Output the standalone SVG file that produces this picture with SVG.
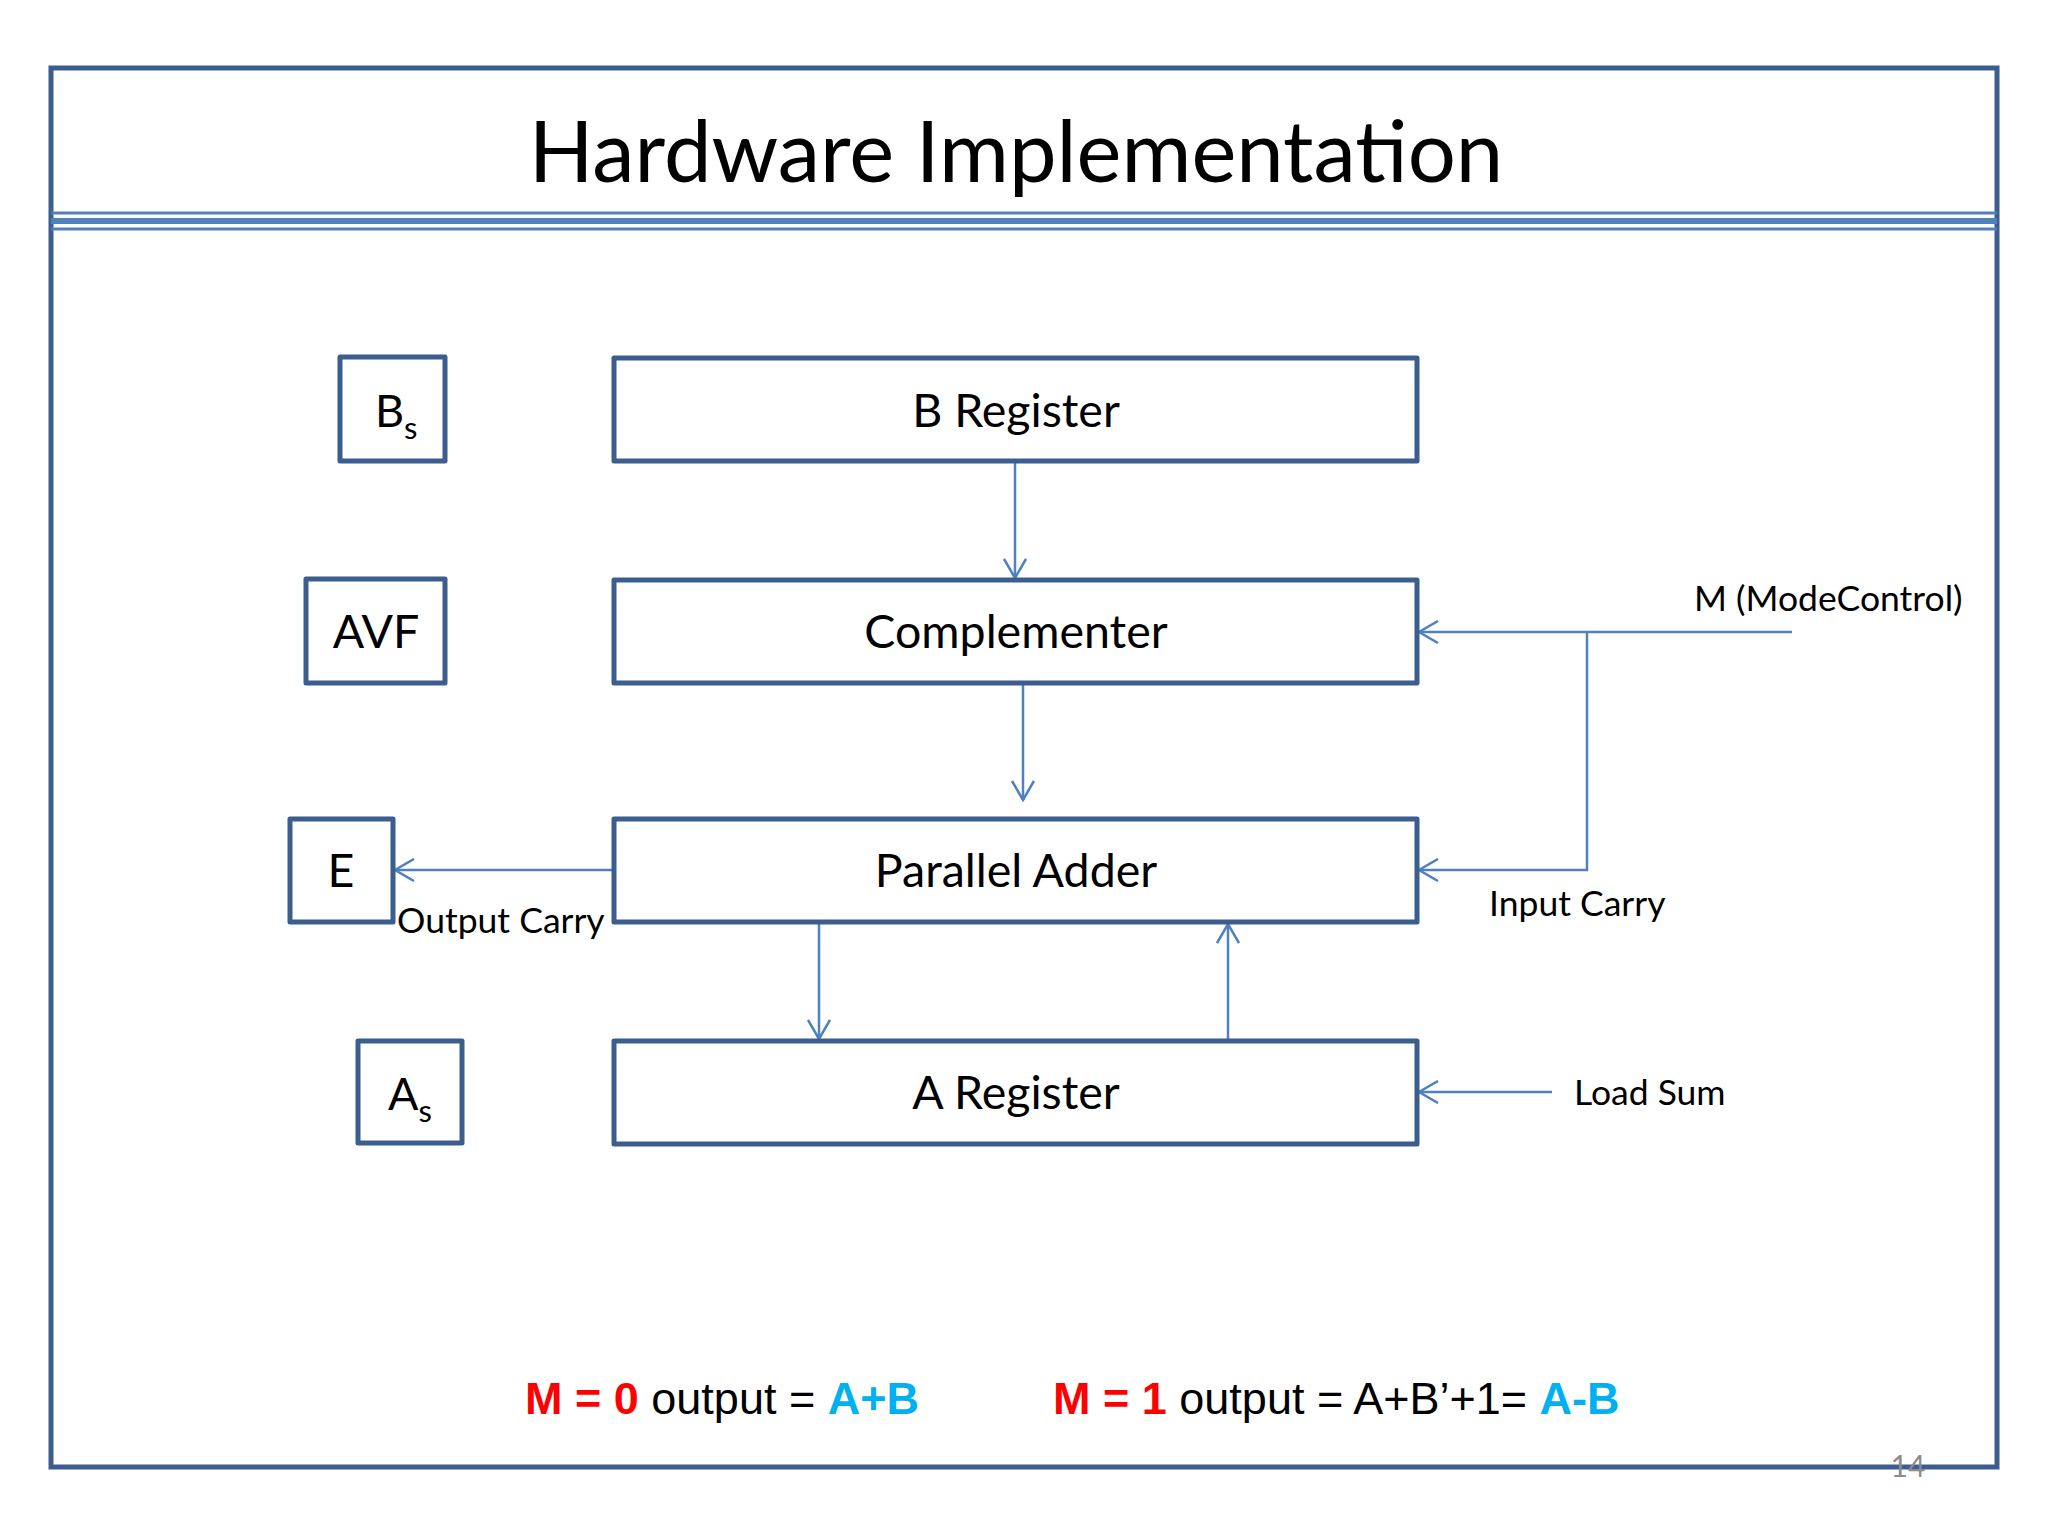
<svg xmlns="http://www.w3.org/2000/svg" width="2048" height="1536" viewBox="0 0 2048 1536">
  <defs>
    <marker id="arr" viewBox="0 0 22 24" refX="20" refY="12" markerWidth="22" markerHeight="24" markerUnits="userSpaceOnUse" orient="auto">
      <path d="M1,1 L20,12 L1,23" fill="none" stroke="#4F81BD" stroke-width="2.5"/>
    </marker>
    <style>
      .box { fill: #FFFFFF; stroke: #3B5E8E; stroke-width: 5; stroke-linejoin: round; }
      .lbl { font-family: Lato, "Open Sans", "Liberation Sans", sans-serif; fill: #000000; }
      .big { font-size: 46.5px; text-anchor: middle; }
      .small { font-size: 35.5px; }
      .sub { font-size: 31px; }
      .conn { fill: none; stroke: #4F81BD; stroke-width: 2.5; }
      .eq { font-family: "Liberation Sans", Arial, sans-serif; font-size: 45px; }
      .red { fill: #FF0000; font-weight: bold; }
      .blue { fill: #00B0F0; font-weight: bold; }
    </style>
  </defs>
  <rect x="0" y="0" width="2048" height="1536" fill="#FFFFFF"/>

  <g id="frame">
    <rect x="51" y="68" width="1946" height="1399" fill="none" stroke="#3B5E8E" stroke-width="5"/>
    <line x1="51" y1="213" x2="1997" y2="213" stroke="#4F81BD" stroke-width="3"/>
    <line x1="51" y1="221" x2="1997" y2="221" stroke="#4F81BD" stroke-width="6"/>
    <line x1="51" y1="229" x2="1997" y2="229" stroke="#4F81BD" stroke-width="3"/>
    <text x="1016" y="182" class="lbl" font-size="85" text-anchor="middle">Hardware Implementation</text>
  </g>

  <g id="connectors">
    <line class="conn" x1="1015" y1="461" x2="1015" y2="578" marker-end="url(#arr)"/>
    <line class="conn" x1="1023" y1="683" x2="1023" y2="800" marker-end="url(#arr)"/>
    <line class="conn" x1="614" y1="870" x2="395" y2="870" marker-end="url(#arr)"/>
    <line class="conn" x1="819" y1="922" x2="819" y2="1039" marker-end="url(#arr)"/>
    <line class="conn" x1="1228" y1="1041" x2="1228" y2="924" marker-end="url(#arr)"/>
    <line class="conn" x1="1792" y1="632" x2="1419" y2="632" marker-end="url(#arr)"/>
    <polyline class="conn" points="1587,632 1587,870 1419,870" marker-end="url(#arr)"/>
    <line class="conn" x1="1552" y1="1092" x2="1419" y2="1092" marker-end="url(#arr)"/>
  </g>

  <g id="node-bs">
    <rect class="box" x="340" y="357" width="105" height="104"/>
    <text class="lbl" x="375" y="427" font-size="45">B<tspan class="sub" dy="12">s</tspan></text>
  </g>
  <g id="node-avf">
    <rect class="box" x="306" y="579" width="139" height="104"/>
    <text class="lbl big" x="376" y="648">AVF</text>
  </g>
  <g id="node-e">
    <rect class="box" x="290" y="819" width="103" height="103"/>
    <text class="lbl big" x="341" y="887">E</text>
  </g>
  <g id="node-as">
    <rect class="box" x="358" y="1041" width="104" height="102"/>
    <text class="lbl" x="388" y="1110" font-size="45">A<tspan class="sub" dy="12">s</tspan></text>
  </g>

  <g id="node-breg">
    <rect class="box" x="614" y="358" width="803" height="103"/>
    <text class="lbl big" x="1016" y="427">B Register</text>
  </g>
  <g id="node-comp">
    <rect class="box" x="614" y="580" width="803" height="103"/>
    <text class="lbl big" x="1016" y="648">Complementer</text>
  </g>
  <g id="node-adder">
    <rect class="box" x="614" y="819" width="803" height="103"/>
    <text class="lbl big" x="1016" y="887">Parallel Adder</text>
  </g>
  <g id="node-areg">
    <rect class="box" x="614" y="1041" width="803" height="103"/>
    <text class="lbl big" x="1016" y="1109">A Register</text>
  </g>

  <g id="labels">
    <text class="lbl small" x="397" y="933">Output Carry</text>
    <text class="lbl small" x="1694" y="611">M (ModeControl)</text>
    <text class="lbl small" x="1489" y="916">Input Carry</text>
    <text class="lbl small" x="1574" y="1105">Load Sum</text>
  </g>

  <g id="equations">
    <text class="eq" x="525" y="1414"><tspan class="red">M = 0</tspan> output = <tspan class="blue">A+B</tspan></text>
    <text class="eq" x="1053" y="1414"><tspan class="red">M = 1</tspan> output = A+B’+1= <tspan class="blue">A-B</tspan></text>
  </g>

  <text x="1908" y="1477" font-family="Lato, 'Liberation Sans', sans-serif" font-size="30" fill="#8C8C8C" text-anchor="middle">14</text>
</svg>
